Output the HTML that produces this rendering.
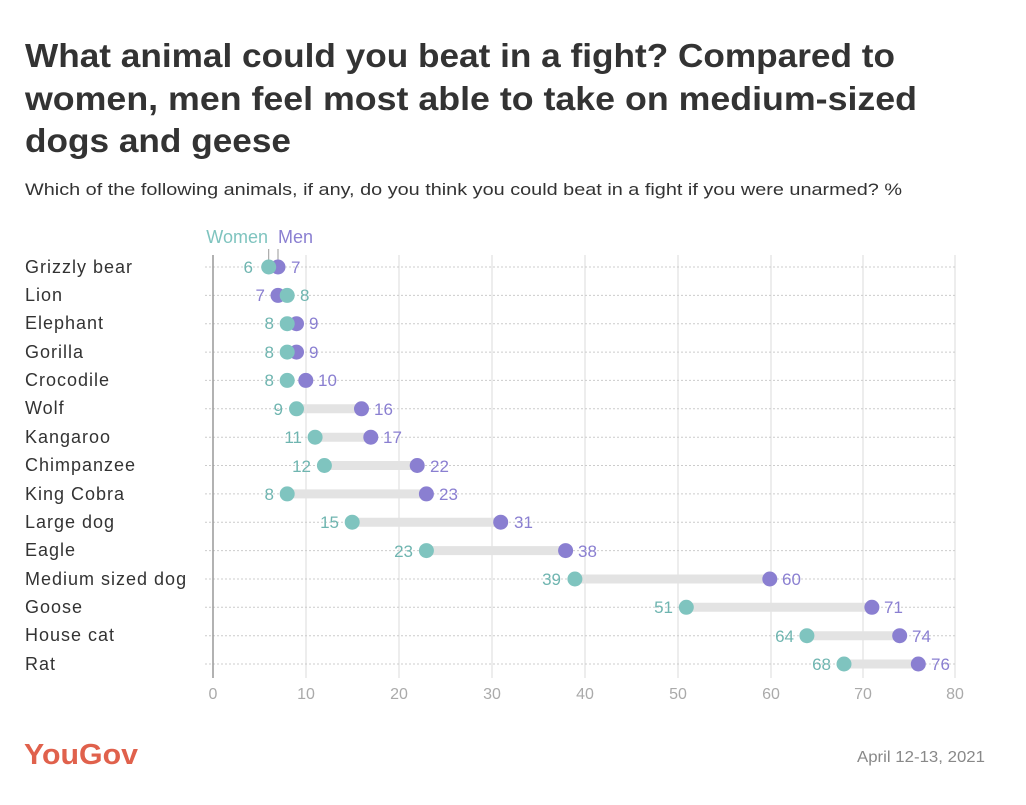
<!DOCTYPE html>
<html><head><meta charset="utf-8"><style>
body{margin:0;background:#fff;width:1026px;height:800px;overflow:hidden;font-family:"Liberation Sans",sans-serif;}
</style></head><body>
<svg width="1026" height="800" xmlns="http://www.w3.org/2000/svg" font-family="Liberation Sans, sans-serif">
<text x="25" y="67" font-size="33" font-weight="bold" fill="#333" textLength="870" lengthAdjust="spacingAndGlyphs">What animal could you beat in a fight? Compared to</text>
<text x="25" y="110" font-size="33" font-weight="bold" fill="#333" textLength="892" lengthAdjust="spacingAndGlyphs">women, men feel most able to take on medium-sized</text>
<text x="25" y="152" font-size="33" font-weight="bold" fill="#333" textLength="266" lengthAdjust="spacingAndGlyphs">dogs and geese</text>
<text x="25" y="195" font-size="17" fill="#333" textLength="877" lengthAdjust="spacingAndGlyphs">Which of the following animals, if any, do you think you could beat in a fight if you were unarmed? %</text>
<g stroke="#e3e3e3" stroke-width="1.3">
<line x1="306" y1="255" x2="306" y2="678"/><line x1="399" y1="255" x2="399" y2="678"/><line x1="492" y1="255" x2="492" y2="678"/><line x1="585" y1="255" x2="585" y2="678"/><line x1="678" y1="255" x2="678" y2="678"/><line x1="771" y1="255" x2="771" y2="678"/><line x1="863" y1="255" x2="863" y2="678"/><line x1="955" y1="255" x2="955" y2="678"/>
</g>
<g stroke="#ccc" stroke-width="1" stroke-dasharray="2,2">
<line x1="205" y1="267" x2="955" y2="267"/><line x1="205" y1="295.4" x2="955" y2="295.4"/><line x1="205" y1="323.7" x2="955" y2="323.7"/><line x1="205" y1="352.1" x2="955" y2="352.1"/><line x1="205" y1="380.4" x2="955" y2="380.4"/><line x1="205" y1="408.8" x2="955" y2="408.8"/><line x1="205" y1="437.2" x2="955" y2="437.2"/><line x1="205" y1="465.5" x2="955" y2="465.5"/><line x1="205" y1="493.9" x2="955" y2="493.9"/><line x1="205" y1="522.2" x2="955" y2="522.2"/><line x1="205" y1="550.6" x2="955" y2="550.6"/><line x1="205" y1="579" x2="955" y2="579"/><line x1="205" y1="607.3" x2="955" y2="607.3"/><line x1="205" y1="635.7" x2="955" y2="635.7"/><line x1="205" y1="664" x2="955" y2="664"/>
</g>
<line x1="213" y1="255" x2="213" y2="678" stroke="#999" stroke-width="1.5"/>
<g font-size="16" fill="#aaa" text-anchor="middle">
<text x="213" y="699">0</text><text x="306" y="699">10</text><text x="399" y="699">20</text><text x="492" y="699">30</text><text x="585" y="699">40</text><text x="678" y="699">50</text><text x="771" y="699">60</text><text x="863" y="699">70</text><text x="955" y="699">80</text>
</g>
<g font-size="18" fill="#333" letter-spacing="1">
<text x="25" y="273">Grizzly bear</text><text x="25" y="301">Lion</text><text x="25" y="329">Elephant</text><text x="25" y="358">Gorilla</text><text x="25" y="386">Crocodile</text><text x="25" y="414">Wolf</text><text x="25" y="443">Kangaroo</text><text x="25" y="471">Chimpanzee</text><text x="25" y="500">King Cobra</text><text x="25" y="528">Large dog</text><text x="25" y="556">Eagle</text><text x="25" y="585">Medium sized dog</text><text x="25" y="613">Goose</text><text x="25" y="641">House cat</text><text x="25" y="670">Rat</text>
</g>
<text x="268" y="243" font-size="18" fill="#7fc4bf" text-anchor="end">Women</text>
<text x="278" y="243" font-size="18" fill="#8a7fd1">Men</text>
<line x1="268.7" y1="249" x2="268.7" y2="262" stroke="#999"/><line x1="278" y1="249" x2="278" y2="262" stroke="#999"/>
<g stroke="#e3e3e3" stroke-width="9">
<line x1="296.5" y1="408.8" x2="361.5" y2="408.8"/><line x1="315.1" y1="437.2" x2="370.8" y2="437.2"/><line x1="324.4" y1="465.5" x2="417.2" y2="465.5"/><line x1="287.2" y1="493.9" x2="426.4" y2="493.9"/><line x1="352.2" y1="522.2" x2="500.7" y2="522.2"/><line x1="565.6" y1="550.6" x2="426.4" y2="550.6"/><line x1="574.9" y1="579" x2="769.8" y2="579"/><line x1="686.3" y1="607.3" x2="871.9" y2="607.3"/><line x1="806.9" y1="635.7" x2="899.7" y2="635.7"/><line x1="844" y1="664" x2="918.3" y2="664"/>
</g>
<g fill="#8a7fd1">
<circle cx="278" cy="267" r="7.5"/><circle cx="278" cy="295.4" r="7.5"/><circle cx="296.5" cy="323.7" r="7.5"/><circle cx="296.5" cy="352.1" r="7.5"/><circle cx="305.8" cy="380.4" r="7.5"/><circle cx="361.5" cy="408.8" r="7.5"/><circle cx="370.8" cy="437.2" r="7.5"/><circle cx="417.2" cy="465.5" r="7.5"/><circle cx="426.4" cy="493.9" r="7.5"/><circle cx="500.7" cy="522.2" r="7.5"/><circle cx="565.6" cy="550.6" r="7.5"/><circle cx="769.8" cy="579" r="7.5"/><circle cx="871.9" cy="607.3" r="7.5"/><circle cx="899.7" cy="635.7" r="7.5"/><circle cx="918.3" cy="664" r="7.5"/>
</g>
<g fill="#7fc4bf">
<circle cx="268.7" cy="267" r="7.5"/><circle cx="287.2" cy="295.4" r="7.5"/><circle cx="287.2" cy="323.7" r="7.5"/><circle cx="287.2" cy="352.1" r="7.5"/><circle cx="287.2" cy="380.4" r="7.5"/><circle cx="296.5" cy="408.8" r="7.5"/><circle cx="315.1" cy="437.2" r="7.5"/><circle cx="324.4" cy="465.5" r="7.5"/><circle cx="287.2" cy="493.9" r="7.5"/><circle cx="352.2" cy="522.2" r="7.5"/><circle cx="426.4" cy="550.6" r="7.5"/><circle cx="574.9" cy="579" r="7.5"/><circle cx="686.3" cy="607.3" r="7.5"/><circle cx="806.9" cy="635.7" r="7.5"/><circle cx="844" cy="664" r="7.5"/>
</g>
<g font-size="17" fill="#6fb5b0" text-anchor="end">
<text x="253" y="273">6</text><text x="274" y="329">8</text><text x="274" y="358">8</text><text x="274" y="386">8</text><text x="283" y="415">9</text><text x="302" y="443">11</text><text x="311" y="472">12</text><text x="274" y="500">8</text><text x="339" y="528">15</text><text x="413" y="557">23</text><text x="561" y="585">39</text><text x="673" y="613">51</text><text x="794" y="642">64</text><text x="831" y="670">68</text>
</g>
<text x="300" y="301" font-size="17" fill="#6fb5b0">8</text>
<text x="265" y="301" font-size="17" fill="#8a7fd1" text-anchor="end">7</text>
<g font-size="17" fill="#8a7fd1">
<text x="291" y="273">7</text><text x="309" y="329">9</text><text x="309" y="358">9</text><text x="318" y="386">10</text><text x="374" y="415">16</text><text x="383" y="443">17</text><text x="430" y="472">22</text><text x="439" y="500">23</text><text x="514" y="528">31</text><text x="578" y="557">38</text><text x="782" y="585">60</text><text x="884" y="613">71</text><text x="912" y="642">74</text><text x="931" y="670">76</text>
</g>
<text x="24" y="764" font-size="29" font-weight="bold" fill="#e0614c" textLength="114" lengthAdjust="spacingAndGlyphs">YouGov</text>
<text x="985" y="762" font-size="16" fill="#888" text-anchor="end" textLength="128" lengthAdjust="spacingAndGlyphs">April 12-13, 2021</text>
</svg>
</body></html>
